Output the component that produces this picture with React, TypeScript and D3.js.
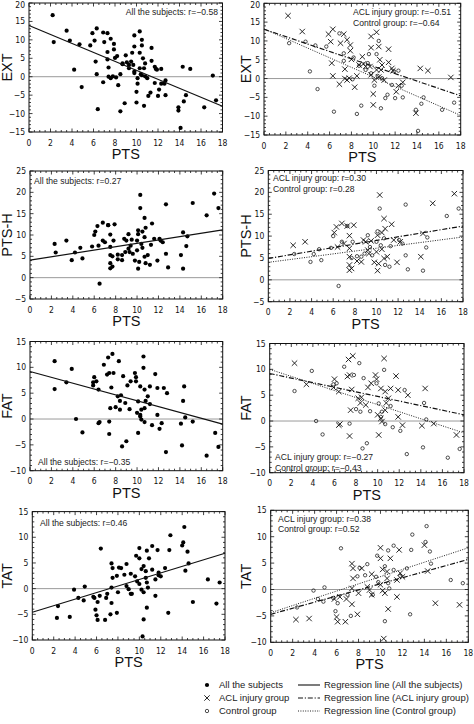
import * as d3 from 'd3';

// Outcome measures plotted against PTS, one row each
const measures = ['EXT', 'PTS-H', 'FAT', 'TAT'];
const yDomains: [number, number][] = [[-15, 20], [-5, 25], [-10, 15], [-10, 15]];
const xTicks = [0, 2, 4, 6, 8, 10, 12, 14, 16, 18];

// [PTS, value] per subject, split by group
const extAcl: [number, number][] = [
  [2.2, 16.7], [3.5, 12.5], [6.3, 13.1], [5.9, 11.8], [6.1, 9.8], [7.0, 9.4], [7.3, 11.8], [7.6, 10.3],
  [7.9, 8.9], [7.9, 7.4], [8.0, 5.1], [6.2, 4.1], [6.3, 0.7], [6.9, -1.5], [7.4, 2.5], [7.4, 0],
  [7.6, -0.4], [7.8, 0.1], [8.3, -2.3], [8.5, 0.7], [9.0, 5.8], [9.1, 3.9], [9.3, 3.2], [8.7, 3.6],
  [9.8, 11.2], [10.3, 12.3], [9.8, 8.2], [10.5, 8.5], [9.7, 3.2], [9.8, 1.0], [10.1, -0.4], [10.3, 2.3],
  [10.6, 5.0], [10.8, 3.6], [10.7, 2.3], [10.5, 0.4], [11.0, -0.4], [10.0, -4.1], [10.0, -7.0], [11.4, 7.8],
  [11.4, 4.3], [11.7, 2.7], [11.8, 2.1], [12.1, -3.5], [12.3, -1.9], [12.7, -1.0], [14.3, 2.7], [15.0, 2.1],
  [17.1, 0.3], [13.9, -9.2],
];
const extCtrl: [number, number][] = [
  [2.3, 9.4], [3.8, 9.8], [4.7, 8.8], [4.2, 1.9], [4.9, -2.8], [5.7, 8.5], [6.4, -8.8], [6.9, 12.0],
  [7.3, 6.7], [7.3, 4.7], [8.2, 5.6], [8.1, -0.2], [8.5, -9.4], [8.9, -7.2], [8.7, 3.4], [9.5, 4.1],
  [9.6, 6.5], [10.3, 6.5], [10.5, 10.0], [10.1, -1.9], [10.7, -7.9], [11.3, -4.3], [11.1, -5.2], [10.4, 0.7],
  [10.8, 0.1], [11.7, -1.7], [12.0, -5.2], [12.3, 2.1], [12.6, -1.9], [12.7, -5.0], [13.9, -8.3], [14.1, -13.9],
  [14.4, -6.7], [14.6, -5.0], [16.3, -8.3], [17.4, -6.4], [11.9, 1.9], [9.8, 1.4], [9.3, 2.3],
];

const ptshAcl: [number, number][] = [
  [2.3, 7.9], [3.4, 8.7], [6.1, 10.8], [6.3, 12.1], [6.8, 12.9], [7.3, 12.3], [7.9, 12.5], [7.5, 10.1],
  [6.4, 7.5], [7.0, 8.3], [7.5, 7.2], [7.5, 5.3], [7.5, 3.4], [7.5, 2.2], [7.7, 2.6], [8.2, 4.3],
  [8.6, 4.1], [8.8, 9.1], [9.2, 6.8], [9.3, 6.0], [9.0, 8.7], [9.5, 8.9], [10.0, 6.4], [9.8, 4.0],
  [10.1, 2.1], [10.3, 19.4], [10.1, 10.2], [10.5, 10.8], [10.7, 14.0], [10.8, 11.7], [10.5, 7.0], [10.7, 4.9],
  [11.0, 5.3], [11.4, 12.7], [11.6, 9.1], [11.9, 4.0], [12.2, 8.7], [14.1, 5.3], [14.3, 10.6], [15.2, 17.5],
  [17.2, 19.7], [10.2, 3.7],
];
const ptshCtrl: [number, number][] = [
  [2.4, 5.9], [3.9, 4.1], [4.2, 5.9], [4.7, 7.0], [4.9, 4.5], [5.8, 7.3], [6.0, 10.0], [6.5, -1.4],
  [6.8, 8.7], [7.3, 12.3], [7.8, 8.7], [8.2, 5.4], [8.6, 5.3], [8.9, 6.0], [9.2, 10.2], [9.4, 7.5],
  [9.6, 5.6], [10.0, 8.7], [10.3, 16.3], [10.1, 11.1], [10.7, 9.5], [10.8, 3.4], [11.2, 3.0], [11.3, 7.7],
  [12.1, 9.1], [12.4, 8.3], [12.7, 17.2], [12.7, 5.6], [12.9, 2.4], [14.3, 2.1], [14.6, 7.4], [14.7, 9.7],
  [16.5, 14.6], [17.6, 16.3], [7.7, 5.0], [10.4, 7.9],
];

const fatAcl: [number, number][] = [
  [2.3, 11.2], [3.4, 7.1], [6.0, 8.1], [5.9, 6.5], [6.4, 5.7], [6.4, -0.8], [6.5, -0.6], [7.3, 11.9],
  [7.7, 12.6], [7.4, 8.9], [7.2, 8.6], [7.6, 6.1], [7.5, 2.1], [7.4, -2.9], [8.2, 4.4], [8.4, 3.5],
  [8.9, 3.1], [9.1, 6.5], [9.4, 7.3], [9.8, 8.9], [9.9, 8.1], [10.3, 6.3], [10.6, 12.1], [10.7, 5.7],
  [11.0, 4.4], [10.8, 3.5], [10.7, 2.1], [10.0, 1.2], [10.3, 0.5], [10.4, -0.1], [10.1, -2.7], [11.7, 8.7],
  [11.9, 6.0], [12.3, -0.8], [11.9, 0.8], [12.8, 5.0], [14.4, 6.3], [14.1, -0.9], [15.2, -0.5], [17.3, -2.7],
  [8.5, 4.6], [11.2, 6.3],
];
const fatCtrl: [number, number][] = [
  [2.3, 5.8], [3.9, 9.7], [4.3, 0], [4.9, -2.6], [5.9, 7.1], [6.9, 10.5], [7.4, -0.5], [7.8, 8.9],
  [8.3, 11.2], [8.0, 2.3], [8.4, 1.8], [9.3, 1.9], [8.7, 8.3], [9.0, -4.3], [8.6, -5.3], [9.9, 7.3],
  [10.1, 3.4], [10.4, 1.8], [10.6, 9.9], [10.7, -0.6], [11.2, 2.9], [11.4, -1.2], [12.1, -1.9], [12.5, 6.0],
  [12.7, -6.4], [14.3, 3.5], [14.2, -5.1], [14.5, 0.3], [16.5, -7.1], [17.6, -5.4], [6.2, 7.3], [10.3, 0.8],
];

const tatAcl: [number, number][] = [
  [2.3, -5.7], [3.5, -5.5], [6.1, -6.1], [6.8, -6.1], [6.0, -5.2], [6.3, -1.4], [5.8, -1.8], [6.9, -1.8],
  [7.4, 4.9], [7.5, 4.0], [7.5, 2.1], [7.4, 0.2], [7.4, -2.8], [7.9, -4.7], [8.0, -0.7], [8.3, 4.0],
  [9.2, 2.9], [9.0, -0.1], [9.2, -1.0], [10.0, 7.9], [10.0, 5.9], [10.2, 3.8], [10.6, 3.4], [10.6, 2.1],
  [10.0, 0.9], [10.2, -0.2], [10.4, -0.7], [10.7, -3.7], [10.3, -9.3], [10.9, 5.9], [11.7, 7.5], [11.5, -1.4],
  [11.8, 3.1], [11.5, 1.8], [14.0, 8.4], [14.3, 3.5], [15.0, -2.6], [17.2, -2.9], [8.8, 0.5], [12.0, 2.4],
];
const tatCtrl: [number, number][] = [
  [2.4, -3.4], [3.9, -0.2], [4.9, 0.4], [4.3, -1.8], [4.8, -2.3], [5.7, -1.6], [6.1, -2.6], [5.9, -4.1],
  [6.4, 7.8], [7.3, -5.0], [7.0, -1.0], [7.9, 2.5], [8.1, 4.1], [8.8, 4.8], [8.6, 2.7], [9.3, -1.0],
  [9.7, 6.4], [9.6, 2.4], [10.4, 4.4], [10.7, 7.4], [11.2, 8.3], [10.4, -6.0], [10.7, 1.2], [11.2, 3.7],
  [11.8, 2.6], [12.4, 4.0], [12.7, -4.7], [12.8, 7.5], [12.9, 10.4], [14.1, 9.0], [14.2, 12.0], [14.5, 7.2],
  [14.6, 4.9], [16.4, 1.8], [17.5, 1.2], [9.8, 1.4], [10.8, 0.2],
];

const aclSets = [extAcl, ptshAcl, fatAcl, tatAcl];
const ctrlSets = [extCtrl, ptshCtrl, fatCtrl, tatCtrl];

// Regression lines as [value at PTS=0, value at PTS=18]
const fitAll: [number, number][] = [[13.9, -8.0], [4.1, 11.2], [9.2, -1.0], [-4.6, 6.9]];
const fitAcl: [number, number][] = [[13.1, -4.6], [4.9, 12.3], [9.2, 1.2], [-4.7, 5.7]];
const fitCtrl: [number, number][] = [[13.2, -9.8], [4.0, 9.8], [10.0, -2.3], [-4.4, 7.9]];

const rAll = ['−0.58', '0.27', '−0.35', '0.46'];
const rAcl = ['−0.51', '0.30', '−0.27', '0.38'];
const rCtrl = ['−0.64', '0.28', '−0.43', '0.52'];

type Frame = { x0: number; x1: number; top: number; bottom: number };

const leftFrames: Frame[] = [
  { x0: 29, x1: 222.5, top: 3, bottom: 132 },
  { x0: 30, x1: 222.7, top: 171, bottom: 299 },
  { x0: 30, x1: 222.7, top: 341.5, bottom: 470.7 },
  { x0: 32.3, x1: 225, top: 511.6, bottom: 640 },
];
const rightFrames: Frame[] = [
  { x0: 264, x1: 460.7, top: 3.3, bottom: 135 },
  { x0: 268.3, x1: 463, top: 170.5, bottom: 301.7 },
  { x0: 269.7, x1: 464, top: 343.5, bottom: 472.7 },
  { x0: 270.7, x1: 468.3, top: 510.3, bottom: 642.3 },
];

// where the r annotations sit
const leftNotes = [
  { x: 218, y: 15, anchor: 'end' },
  { x: 34, y: 184, anchor: 'start' },
  { x: 38, y: 465, anchor: 'start' },
  { x: 40, y: 526, anchor: 'start' },
];
const rightNotes = [
  { x: 353, y: 15 },
  { x: 273, y: 181 },
  { x: 275, y: 460 },
  { x: 278, y: 521.5 },
];

const SANS = "'Liberation Sans', Arial, Helvetica, sans-serif";
const NARROW = "'Liberation Sans Narrow', 'DejaVu Sans Condensed', sans-serif";
const fmt = d3.format('d');

const DASH_DOT = '5,1.8,1.2,1.8';
const DOTTED = '1,1.4';

function Cross({ x, y }: { x: number; y: number }) {
  const s = 2.7;
  return (
    <path
      d={`M${x - s},${y - s}L${x + s},${y + s}M${x - s},${y + s}L${x + s},${y - s}`}
      stroke="#111"
      strokeWidth={0.9}
      fill="none"
    />
  );
}

function Ring({ x, y }: { x: number; y: number }) {
  return <circle cx={x} cy={y} r={1.7} fill="none" stroke="#222" strokeWidth={0.8} />;
}

function Axes({ f, i, yTitleX }: { f: Frame; i: number; yTitleX: number }) {
  const dom = yDomains[i];
  const x = d3.scaleLinear().domain([0, 18]).range([f.x0, f.x1]);
  const y = d3.scaleLinear().domain(dom).range([f.bottom, f.top]);
  const yMajor = d3.range(dom[0], dom[1] + 0.01, 5);
  const yMinor = d3.range(dom[0], dom[1] + 0.01, 1);
  const xMinor = d3.range(0, 18.01, 0.5);
  return (
    <g>
      {/* zero reference */}
      <line x1={f.x0} x2={f.x1} y1={y(0)} y2={y(0)} stroke="#9a9a9a" strokeWidth={1} />
      <rect x={f.x0} y={f.top} width={f.x1 - f.x0} height={f.bottom - f.top} fill="none" stroke="#111" strokeWidth={1} />
      {xMinor.map((v) => {
        const len = xTicks.includes(v) ? 3.5 : 2;
        return (
          <g key={`xt${v}`} stroke="#111" strokeWidth={0.8}>
            <line x1={x(v)} x2={x(v)} y1={f.bottom} y2={f.bottom - len} />
            <line x1={x(v)} x2={x(v)} y1={f.top} y2={f.top + len} />
          </g>
        );
      })}
      {yMinor.map((v) => {
        const len = yMajor.includes(v) ? 3.5 : 2;
        return (
          <g key={`yt${v}`} stroke="#111" strokeWidth={0.8}>
            <line x1={f.x0} x2={f.x0 + len} y1={y(v)} y2={y(v)} />
            <line x1={f.x1} x2={f.x1 - len} y1={y(v)} y2={y(v)} />
          </g>
        );
      })}
      {xTicks.map((v) => (
        <text key={`xl${v}`} x={x(v)} y={f.bottom + 13.5} textAnchor="middle" fontFamily={NARROW} fontSize={8.5} fill="#111">
          {fmt(v)}
        </text>
      ))}
      {yMajor.map((v) => (
        <text
          key={`yl${v}`}
          x={f.x0 - 4}
          y={Math.max(y(v) + 3, 7.5)}
          textAnchor="end"
          fontFamily={NARROW}
          fontSize={8.5}
          fill="#111"
        >
          {fmt(v)}
        </text>
      ))}
      <text x={(f.x0 + f.x1) / 2} y={f.bottom + 27} textAnchor="middle" fontFamily={SANS} fontSize={14.5} fill="#111">
        PTS
      </text>
      <text
        transform={`translate(${yTitleX},${(f.top + f.bottom) / 2}) rotate(-90)`}
        textAnchor="middle"
        fontFamily={SANS}
        fontSize={14.5}
        fill="#111"
      >
        {measures[i]}
      </text>
    </g>
  );
}

function fitLine(f: Frame, i: number, fit: [number, number]) {
  const x = d3.scaleLinear().domain([0, 18]).range([f.x0, f.x1]);
  const y = d3.scaleLinear().domain(yDomains[i]).range([f.bottom, f.top]);
  return d3.line<[number, number]>().x((d) => x(d[0])).y((d) => y(d[1]))([[0, fit[0]], [18, fit[1]]]) || '';
}

function AllPanel({ i }: { i: number }) {
  const f = leftFrames[i];
  const x = d3.scaleLinear().domain([0, 18]).range([f.x0, f.x1]);
  const y = d3.scaleLinear().domain(yDomains[i]).range([f.bottom, f.top]);
  const pts = [...aclSets[i], ...ctrlSets[i]];
  const note = leftNotes[i];
  return (
    <g>
      <Axes f={f} i={i} yTitleX={12} />
      {pts.map((d, k) => (
        <circle key={k} cx={x(d[0])} cy={y(d[1])} r={2.1} fill="#000" />
      ))}
      <path d={fitLine(f, i, fitAll[i])} stroke="#111" strokeWidth={1.2} fill="none" />
      <text x={note.x} y={note.y} textAnchor={note.anchor} fontFamily={SANS} fontSize={8.6} fill="#222">
        All the subjects: r={rAll[i]}
      </text>
    </g>
  );
}

function GroupPanel({ i }: { i: number }) {
  const f = rightFrames[i];
  const x = d3.scaleLinear().domain([0, 18]).range([f.x0, f.x1]);
  const y = d3.scaleLinear().domain(yDomains[i]).range([f.bottom, f.top]);
  const note = rightNotes[i];
  return (
    <g>
      <Axes f={f} i={i} yTitleX={251} />
      {ctrlSets[i].map((d, k) => (
        <Ring key={`c${k}`} x={x(d[0])} y={y(d[1])} />
      ))}
      {aclSets[i].map((d, k) => (
        <Cross key={`a${k}`} x={x(d[0])} y={y(d[1])} />
      ))}
      <path d={fitLine(f, i, fitAcl[i])} stroke="#111" strokeWidth={1.2} strokeDasharray={DASH_DOT} fill="none" />
      <path d={fitLine(f, i, fitCtrl[i])} stroke="#222" strokeWidth={1} strokeDasharray={DOTTED} fill="none" />
      <text x={note.x} y={note.y} fontFamily={SANS} fontSize={8.6} fill="#222">
        ACL injury group: r={rAcl[i]}
      </text>
      <text x={note.x} y={note.y + 10.5} fontFamily={SANS} fontSize={8.6} fill="#222">
        Control group: r={rCtrl[i]}
      </text>
    </g>
  );
}

function Legend() {
  const rows = [685, 698, 711];
  const txt = { fontFamily: SANS, fontSize: 9.5, fill: '#222' };
  const lx0 = 298;
  const lx1 = 320;
  const tx = 324;
  return (
    <g>
      <circle cx={207} cy={rows[0]} r={2.1} fill="#000" />
      <Cross x={207} y={rows[1]} />
      <Ring x={207} y={rows[2]} />
      <text x={219} y={rows[0] + 3.4} {...txt}>All the subjects</text>
      <text x={219} y={rows[1] + 3.4} {...txt}>ACL injury group</text>
      <text x={219} y={rows[2] + 3.4} {...txt}>Control group</text>
      <line x1={lx0} x2={lx1} y1={rows[0]} y2={rows[0]} stroke="#111" strokeWidth={1.1} />
      <line x1={lx0} x2={lx1} y1={rows[1]} y2={rows[1]} stroke="#111" strokeWidth={1} strokeDasharray={DASH_DOT} />
      <line x1={lx0} x2={lx1} y1={rows[2]} y2={rows[2]} stroke="#222" strokeWidth={1} strokeDasharray={DOTTED} />
      <text x={tx} y={rows[0] + 3.4} {...txt}>Regression line (All the subjects)</text>
      <text x={tx} y={rows[1] + 3.4} {...txt}>Regression line (ACL injury group)</text>
      <text x={tx} y={rows[2] + 3.4} {...txt}>Regression line (Control group)</text>
    </g>
  );
}

export default function App() {
  return (
    <svg
      width={474}
      height={724}
      viewBox="0 0 474 724"
      style={{ position: 'absolute', left: 0, top: 0, background: '#fff' }}
    >
      {measures.map((m, i) => (
        <g key={m}>
          <AllPanel i={i} />
          <GroupPanel i={i} />
        </g>
      ))}
      <Legend />
    </svg>
  );
}
